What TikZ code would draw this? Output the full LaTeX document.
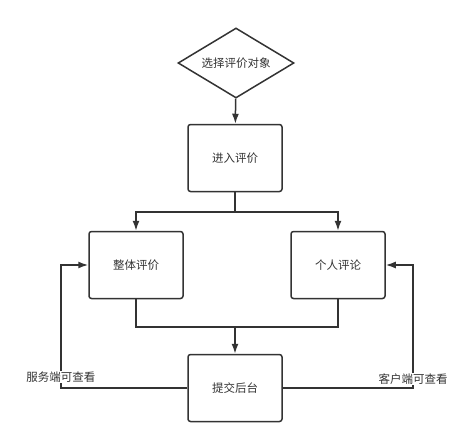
\documentclass[tikz,border=0pt]{standalone}
\usepackage{fontspec}
\newfontfamily\cjk{Noto Sans CJK SC}
\usetikzlibrary{shapes.geometric,arrows.meta}
\definecolor{linegray}{HTML}{333333}

\begin{document}
\begin{tikzpicture}[x=1pt,y=-1pt,>={Latex[length=10pt,width=7pt]},line width=1.5pt,
  every node/.style={font=\cjk\fontsize{11.5}{14}\selectfont,text=linegray}]
 \tikzstyle{box} = [draw=linegray, rounded corners=2.5pt, minimum width=94pt, minimum height=67pt]
 \tikzstyle{choice} = [draw=linegray, diamond, aspect=1.66, inner sep=0pt, minimum width=116pt, minimum height=70pt]
 \tikzstyle{link} = [draw=linegray, line width=1.5pt]
 \tikzstyle{lbl} = [fill=white, inner sep=1pt]
 \useasboundingbox (0,0) rectangle (474,444);

% Nodes
 \node[choice] (select) at (236,63) {选择评价对象};
 \node[box] (enter) at (235,158) {进入评价};
 \node[box] (whole) at (136,265) {整体评价};
 \node[box] (person) at (338,265) {个人评论};
 \node[box] (submit) at (235,388) {提交后台};

% Split and merge points
 \coordinate (split) at (235,212);
 \coordinate (merge) at (235,327);

% Main flow
 \draw[link,->] (select) -- (enter);
 \draw[link] (enter) -- (split);
 \draw[link,->] (split) -| (whole);
 \draw[link,->] (split) -| (person);
 \draw[link] (whole) |- (merge);
 \draw[link] (person) |- (merge);
 \draw[link,->] (merge) -- (submit);

% Feedback to both sides
 \draw[link,->] (submit) -- ++(-174,0) |- (whole);
 \draw[link,->] (submit) -- ++(178,0) |- (person);
 \node[lbl] (server) at (61,377) {服务端可查看};
 \node[lbl] (client) at (413,379) {客户端可查看};
\end{tikzpicture}
\end{document}
